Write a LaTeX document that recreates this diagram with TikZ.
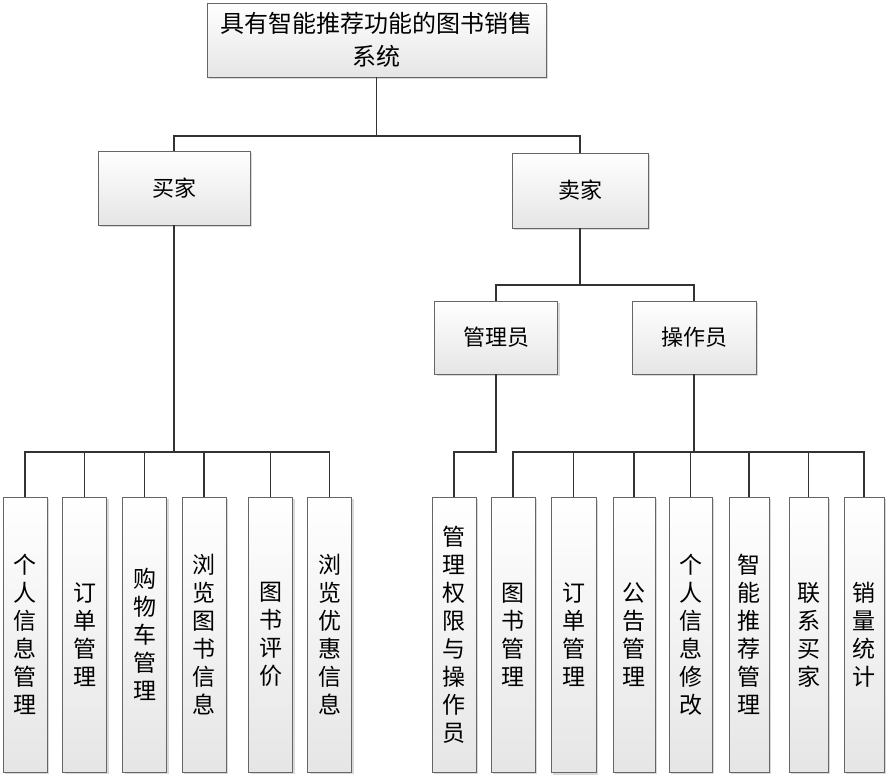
\documentclass[tikz,border=0pt]{standalone}
\usepackage{fontspec}
\setmainfont{Noto Sans CJK SC}
\usetikzlibrary{shadows}
\begin{document}
\begin{tikzpicture}[x=1pt, y=-1pt,
  box/.style={draw=black!60, line width=0.8pt, top color=white, bottom color=black!10,
    drop shadow={shadow xshift=2pt, shadow yshift=-2pt, fill=black!25, opacity=0.6},
    inner sep=0pt, align=center},
  midbox/.style={box, font=\fontsize{22}{28}\selectfont},
  leafbox/.style={box, minimum width=44pt, minimum height=275pt, font=\fontsize{23}{28}\selectfont},
  link/.style={draw=black!80, line width=1.1pt}]
\useasboundingbox (0,0) rectangle (890,780);
% top and second level
\node[box, minimum width=339pt, minimum height=74pt, font=\fontsize{24}{33}\selectfont] (tid0) at (376.5,40){具有智能推荐功能的图书销售\\系统};
\node[midbox, minimum width=152pt, minimum height=74pt] (tid1) at (174,188){买家};
\node[midbox, minimum width=136pt, minimum height=75pt] (tid2) at (580,190.5){卖家};
\node[midbox, minimum width=123pt, minimum height=73pt] (tid3) at (496,337.5){管理员};
\node[midbox, minimum width=124pt, minimum height=73pt] (tid4) at (694,337.5){操作员};
\coordinate (bus0) at (376.5,136);
\coordinate (bus2) at (580,285);
\coordinate (bus1) at (174,452);
\draw[link](tid0.south) -- (bus0) -| (tid1.north);
\draw[link](bus0) -| (tid2.north);
\draw[link](tid2.south) -- (bus2) -| (tid3.north);
\draw[link](bus2) -| (tid4.north);
% buyer leaves
\node[leafbox] (tid5) at (25,634.5){个\\人\\信\\息\\管\\理};
\node[leafbox] (tid6) at (84.5,634.5){订\\单\\管\\理};
\node[leafbox] (tid7) at (144.5,634.5){购\\物\\车\\管\\理};
\node[leafbox] (tid8) at (204,634.5){浏\\览\\图\\书\\信\\息};
\node[leafbox] (tid9) at (270.5,634.5){图\\书\\评\\价};
\node[leafbox] (tid10) at (329.5,634.5){浏\\览\\优\\惠\\信\\息};
\draw[link](tid1.south) -- (bus1);
\draw[link](bus1) -| (tid5.north);
\draw[link](bus1) -| (tid6.north);
\draw[link](bus1) -| (tid7.north);
\draw[link](bus1) -| (tid8.north);
\draw[link](bus1) -| (tid9.north);
\draw[link](bus1) -| (tid10.north);
% seller leaves
\node[leafbox] (tid11) at (454,634.5){管\\理\\权\\限\\与\\操\\作\\员};
\node[leafbox] (tid12) at (513,634.5){图\\书\\管\\理};
\node[leafbox, minimum width=45pt] (tid13) at (573.5,635){订\\单\\管\\理};
\node[leafbox, minimum width=42pt] (tid14) at (634,634.5){公\\告\\管\\理};
\node[leafbox, minimum width=43pt] (tid15) at (690.5,634.5){个\\人\\信\\息\\修\\改};
\node[leafbox, minimum width=40pt] (tid16) at (749,634.5){智\\能\\推\\荐\\管\\理};
\node[leafbox, minimum width=39pt] (tid17) at (808.5,634.5){联\\系\\买\\家};
\node[leafbox, minimum width=40pt] (tid18) at (864,634.5){销\\量\\统\\计};
\coordinate (bus3) at (496,452);
\coordinate (bus4) at (694,452);
\draw[link](tid3.south) -- (bus3) -| (tid11.north);
\draw[link](tid4.south) -- (bus4);
\draw[link](bus4) -| (tid12.north);
\draw[link](bus4) -| (tid13.north);
\draw[link](bus4) -| (tid14.north);
\draw[link](bus4) -| (tid15.north);
\draw[link](bus4) -| (tid16.north);
\draw[link](bus4) -| (tid17.north);
\draw[link](bus4) -| (tid18.north);
\end{tikzpicture}
\end{document}
